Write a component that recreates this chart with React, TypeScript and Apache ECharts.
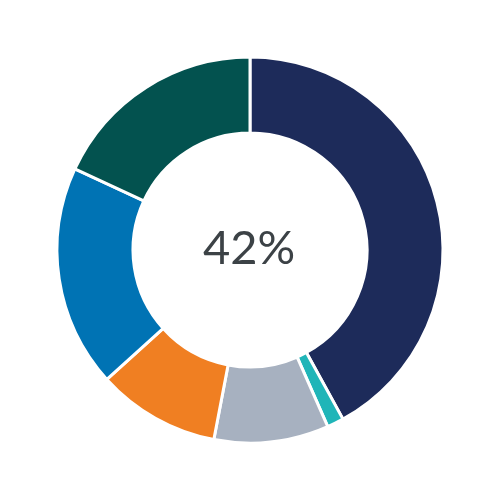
import * as echarts from 'echarts'
import React, { useEffect, useRef } from 'react'

const categories = ['Navy', 'Teal', 'Gray', 'Orange', 'Blue', 'Green']
const shares = [42, 1.4, 9.6, 10.3, 18.6, 18.1]
const colors = ['#1d2b5a', '#20b5b8', '#a7b1c0', '#f07f22', '#0073b4', '#03524f']
const centerLabel = '42%'

export default function App() {
  const chartRef = useRef<HTMLDivElement>(null)

  useEffect(() => {
    const chart = echarts.init(chartRef.current, null, { renderer: 'svg' })

    chart.setOption({
      animation: false,
      graphic: [
        {
          type: 'text',
          x: 249,
          y: 246,
          style: {
            text: centerLabel,
            fontFamily: 'Lato',
            fontWeight: 'normal',
            fontSize: 47,
            fill: '#3c4246',
            align: 'center',
            verticalAlign: 'middle',
          },
        },
      ],
      series: [
        {
          type: 'pie',
          center: [250, 250],
          radius: [117, 193],
          startAngle: 90,
          clockwise: true,
          label: { show: false },
          labelLine: { show: false },
          emphasis: { disabled: true },
          itemStyle: {
            borderColor: '#ffffff',
            borderWidth: 3,
          },
          data: categories.map((name, i) => ({
            name,
            value: shares[i],
            itemStyle: { color: colors[i] },
          })),
        },
      ],
    })

    return () => {
      chart.dispose()
    }
  }, [])

  return (
    <div
      ref={chartRef}
      style={{ position: 'fixed', left: 0, top: 0, width: '500px', height: '500px' }}
    />
  )
}
